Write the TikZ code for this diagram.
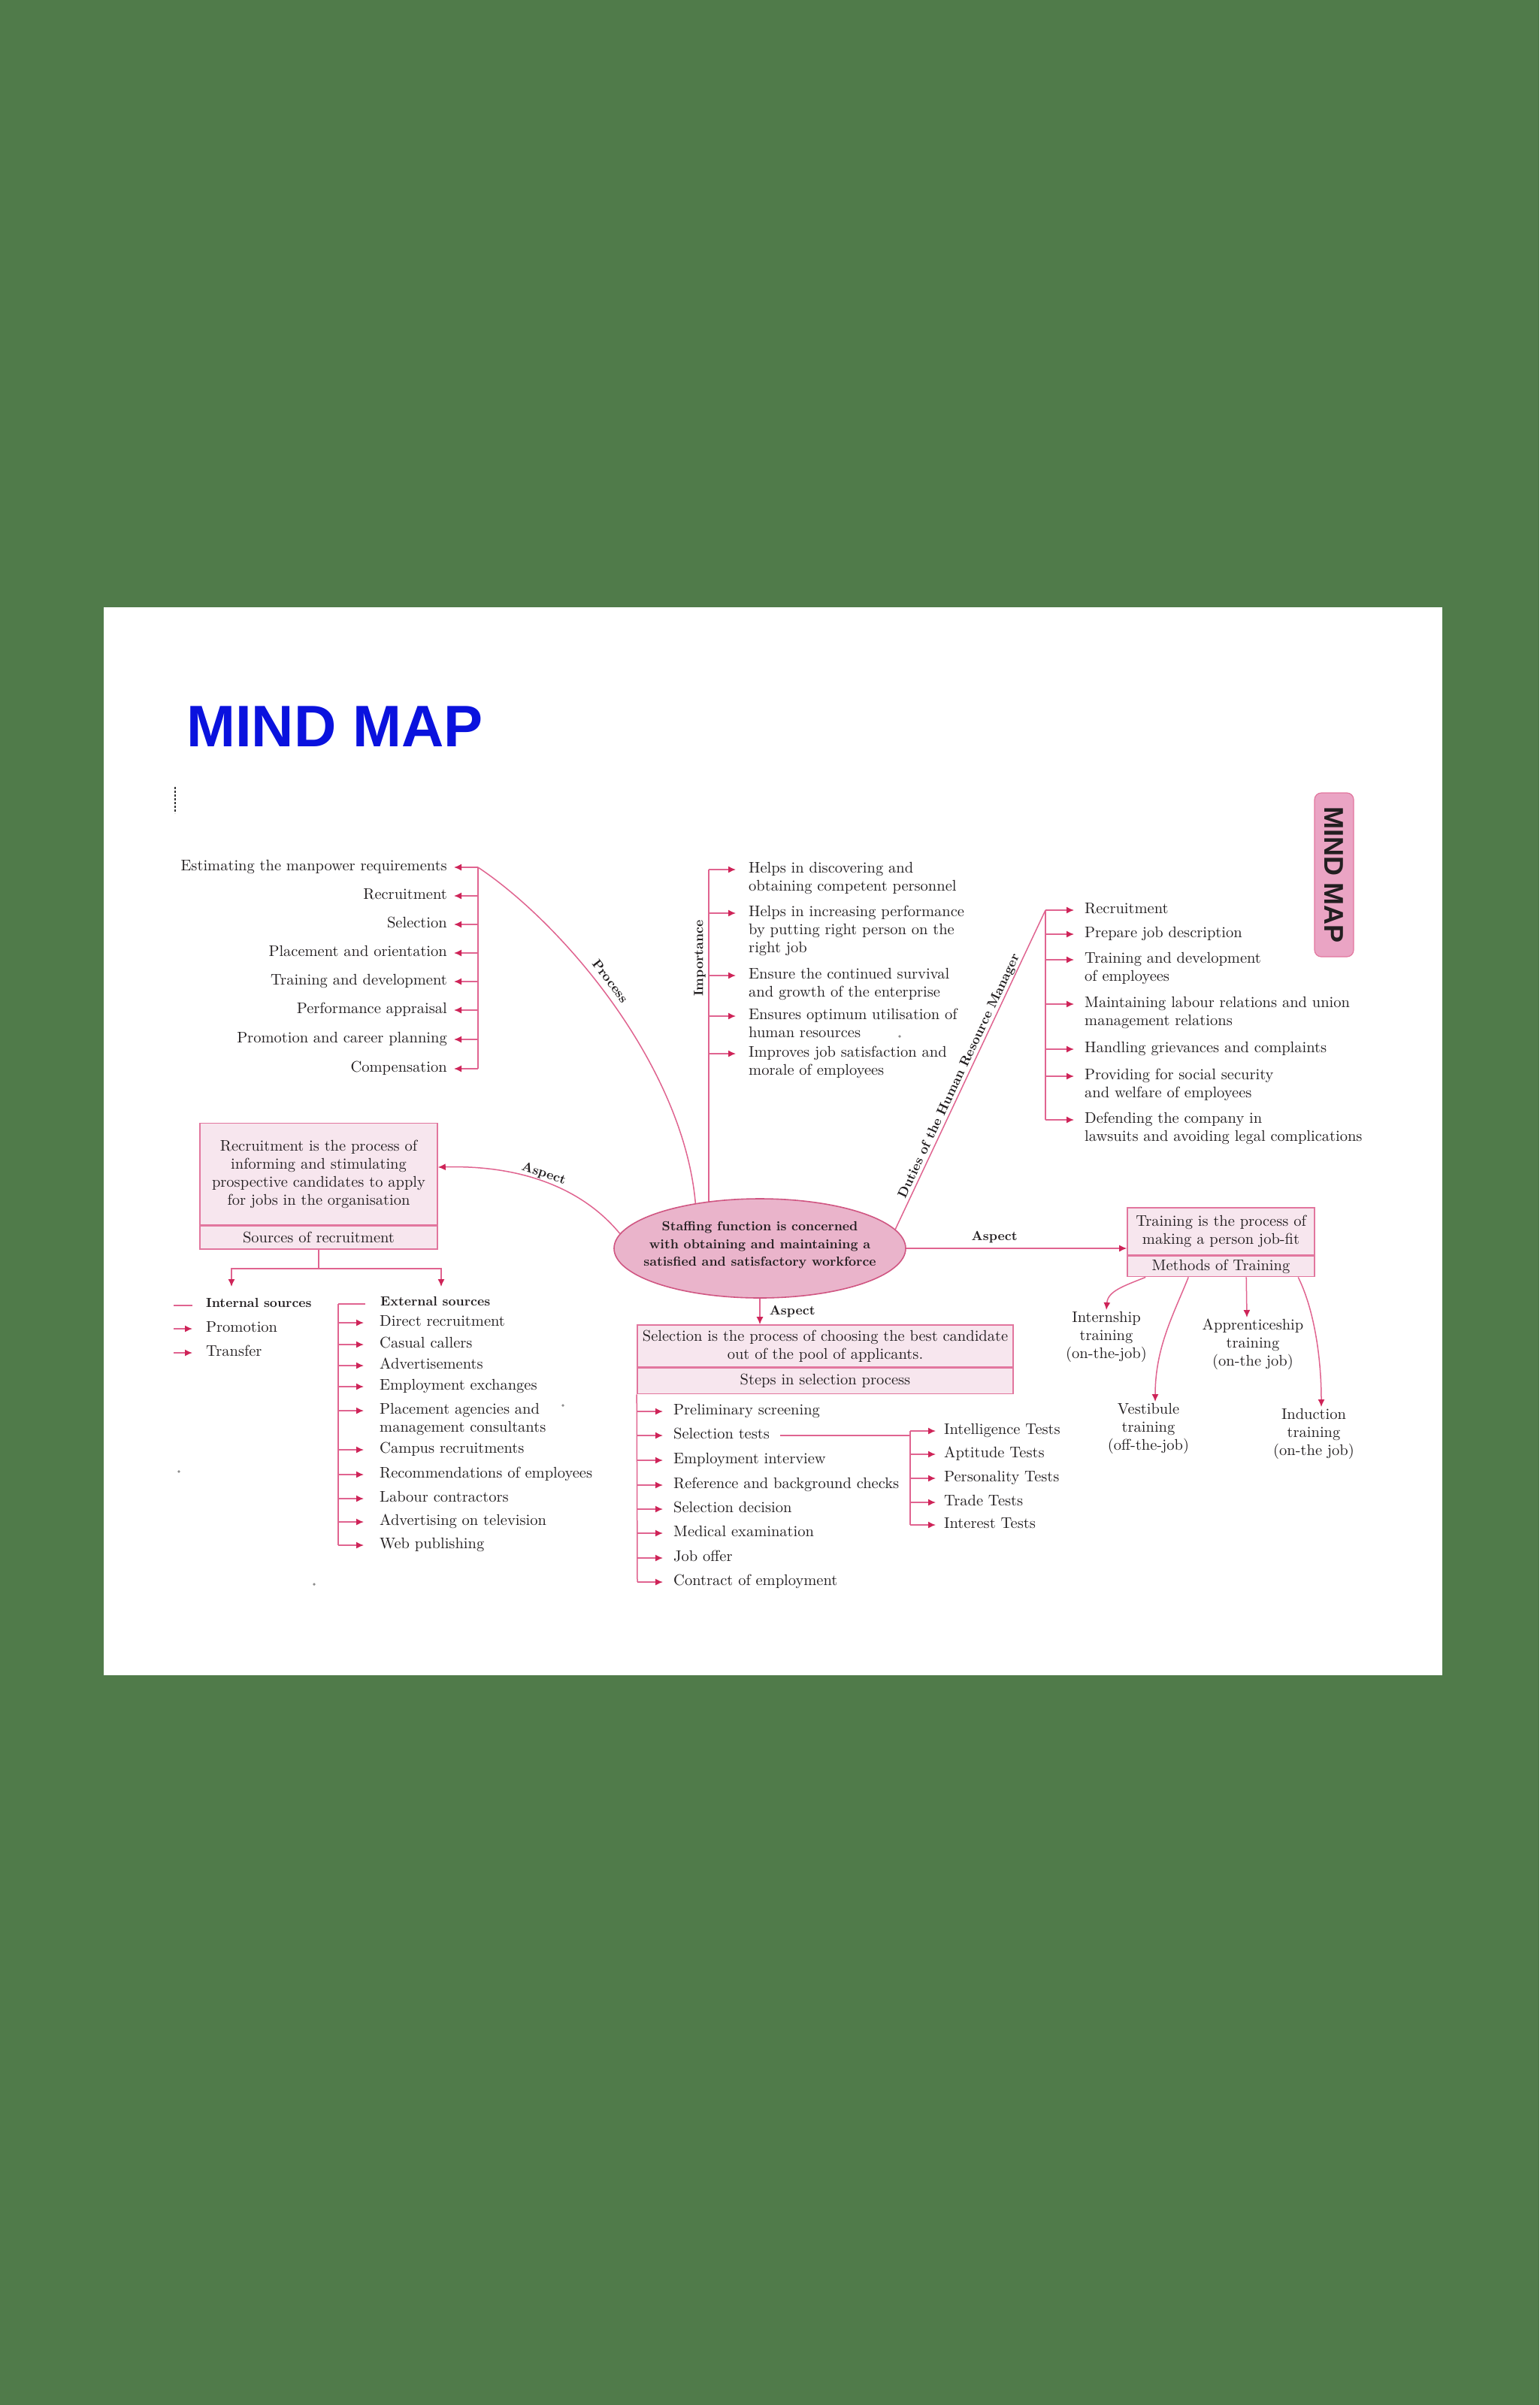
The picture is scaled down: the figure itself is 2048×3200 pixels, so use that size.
\documentclass[tikz,border=0pt]{standalone}
\usepackage{fontspec}
\setmainfont{lmroman10-regular.otf}[BoldFont=lmroman10-bold.otf, ItalicFont=lmroman10-italic.otf, BoldItalicFont=lmroman10-bolditalic.otf]
\newfontfamily\headfont{Liberation Sans}
\usetikzlibrary{arrows.meta,shapes.geometric,positioning,backgrounds}

\definecolor{leaf}{RGB}{80,123,74}
\definecolor{titleblue}{RGB}{10,18,222}
\definecolor{wirepink}{RGB}{224,100,144}
\definecolor{tipred}{RGB}{206,36,88}
\definecolor{boxfill}{RGB}{247,230,238}
\definecolor{boxline}{RGB}{226,118,158}
\definecolor{hubfill}{RGB}{234,180,203}
\definecolor{hubline}{RGB}{208,86,130}
\definecolor{tabfill}{RGB}{234,164,196}
\definecolor{ink}{RGB}{34,30,32}

\tikzset{
  wire/.style={draw=wirepink, line width=1.5pt},
  twig/.style={wire, -{Latex[length=10pt,width=9pt,color=tipred]}},
  txt/.style={font=\fontsize{20.5}{24}\selectfont, text=ink},
  ritem/.style={txt, anchor=north west, align=left, inner ysep=0pt, yshift=10pt},
  litem/.style={txt, anchor=north east, align=right, inner ysep=0pt, yshift=10pt},
  kid/.style={txt, anchor=north, align=center, inner sep=2pt, yshift=12pt},
  lbl/.style={font=\bfseries\fontsize{17.5}{21}\selectfont, text=ink, inner sep=2pt},
  card/.style={txt, draw=boxline, fill=boxfill, line width=1.6pt, align=center, inner sep=2pt},
  hub/.style={ellipse, draw=hubline, fill=hubfill, line width=1.6pt, minimum width=388pt, minimum height=132pt, inner sep=0pt},
  hubtext/.style={font=\bfseries\fontsize{17.5}{23.5}\selectfont, text=ink, align=center, inner sep=0pt},
  tabbox/.style={rounded corners=9pt, draw=boxline, fill=tabfill, line width=1.2pt, minimum width=218pt, minimum height=52pt, font=\headfont\bfseries\fontsize{36}{40}\selectfont, text=ink}
}

\begin{document}
\begin{tikzpicture}[x=1pt, y=-1pt]
  \useasboundingbox (0,0) rectangle (2048,3200);
  \begin{scope}[on background layer]
    \fill[leaf] (0,0) rectangle (2048,3200);
    \fill[white] (138,808) rectangle (1919,2229);
  \end{scope}

  % title and side tab
  \node[anchor=west, inner sep=0pt, text=titleblue, font=\headfont\bfseries\fontsize{78}{80}\selectfont] (title) at (248,967) {MIND MAP};
  \node[tabbox, rotate=-90] (tab) at (1775,1164) {MIND MAP};

  % centre
  \node[hub] (core) at (1011,1661) {};
  \node[hubtext] (coretext) at (1011,1657) {Staffing function is concerned\\with obtaining and maintaining a\\satisfied and satisfactory workforce};

  % process
  \foreach \y/\lab [count=\i] in {1154/Estimating the manpower requirements, 1192/Recruitment, 1230/Selection, 1268/Placement and orientation, 1306/Training and development, 1344/Performance appraisal, 1383/Promotion and career planning, 1422/Compensation} {
    \coordinate (pb\i) at (636,\y);
    \node[litem, inner xsep=9pt] (pr\i) at (604,\y) {\lab};
  }

  % importance
  \foreach \y/\lab [count=\i] in {1157/Helps in discovering and\\obtaining competent personnel, 1215/Helps in increasing performance\\by putting right person on the\\right job, 1298/Ensure the continued survival\\and growth of the enterprise, 1352/Ensures optimum utilisation of\\human resources, 1402/Improves job satisfaction and\\morale of employees} {
    \coordinate (ib\i) at (943,\y);
    \node[ritem, inner xsep=17pt] (im\i) at (979,\y) {\lab};
  }
  \node[lbl, rotate=90] (implbl) at (931,1275) {Importance};

  % duties
  \foreach \y/\lab [count=\i] in {1211/Recruitment, 1243/Prepare job description, 1277/Training and development\\of employees, 1336/Maintaining labour relations and union\\management relations, 1396/Handling grievances and complaints, 1432/Providing for social security\\and welfare of employees, 1490/Defending the company in\\lawsuits and avoiding legal complications} {
    \coordinate (db\i) at (1391,\y);
    \node[ritem, inner xsep=14pt] (du\i) at (1429,\y) {\lab};
  }

  % recruitment
  \node[card, minimum width=316pt, minimum height=135pt] (rectxt) at (424,1562) {Recruitment is the process of\\informing and stimulating\\prospective candidates to apply\\for jobs in the organisation};
  \node[card, minimum width=316pt, minimum height=31pt, anchor=north] (recsrc) at (rectxt.south) {Sources of recruitment};
  \coordinate (split) at (424,1688);
  \coordinate (inT) at (308,1712);
  \coordinate (exT) at (587,1712);

  \coordinate (in0) at (231,1737);
  \node[ritem, inner xsep=18pt, font=\bfseries\fontsize{17.5}{21}\selectfont] (inhead) at (256,1737) {Internal sources};
  \foreach \y/\lab [count=\i] in {1768/Promotion, 1800/Transfer} {
    \coordinate (in\i) at (231,\y);
    \node[ritem, inner xsep=18pt] (is\i) at (256,\y) {\lab};
  }

  \coordinate (ex0) at (450,1735);
  \node[ritem, inner xsep=20pt, font=\bfseries\fontsize{17.5}{21}\selectfont] (exhead) at (486,1735) {External sources};
  \foreach \y/\lab [count=\i] in {1760/Direct recruitment, 1789/Casual callers, 1817/Advertisements, 1845/Employment exchanges, 1877/Placement agencies and\\management consultants, 1929/Campus recruitments, 1962/Recommendations of employees, 1994/Labour contractors, 2025/Advertising on television, 2056/Web publishing} {
    \coordinate (eb\i) at (450,\y);
    \node[ritem, inner xsep=21pt] (es\i) at (484,\y) {\lab};
  }

  % selection
  \node[card, minimum width=500pt, minimum height=56pt] (seltxt) at (1098,1791) {Selection is the process of choosing the best candidate\\out of the pool of applicants.};
  \node[card, minimum width=500pt, minimum height=34pt, anchor=north] (selsrc) at (seltxt.south) {Steps in selection process};
  \foreach \y/\lab [count=\i] in {1878/Preliminary screening, 1910/Selection tests, 1943/Employment interview, 1976/Reference and background checks, 2008/Selection decision, 2040/Medical examination, 2073/Job offer, 2105/Contract of employment} {
    \coordinate (sb\i) at (848,\y);
    \node[ritem, inner xsep=14pt] (st\i) at (882,\y) {\lab};
  }
  \foreach \y/\lab [count=\i] in {1904/Intelligence Tests, 1935/Aptitude Tests, 1967/Personality Tests, 1999/Trade Tests, 2029/Interest Tests} {
    \coordinate (tb\i) at (1211,\y);
    \node[ritem, inner xsep=11pt] (te\i) at (1245,\y) {\lab};
  }

  % training
  \node[card, minimum width=249pt, minimum height=63pt] (trtxt) at (1624.5,1638.5) {Training is the process of\\making a person job-fit};
  \node[card, minimum width=249pt, minimum height=27pt, anchor=north] (trsrc) at (trtxt.south) {Methods of Training};
  \node[kid] (intern) at (1472,1755) {Internship\\training\\(on-the-job)};
  \node[kid] (vesti) at (1528,1877) {Vestibule\\training\\(off-the-job)};
  \node[kid] (appren) at (1667,1765) {Apprenticeship\\training\\(on-the job)};
  \node[kid] (induct) at (1748,1884) {Induction\\training\\(on-the job)};

  % specks of the scan
  \draw[densely dashed, line width=2.5pt, black!80] (233,1047) -- (233,1082);
  \foreach \p in {(749,1870),(238,1958),(418,2108),(1197,1379)}
    \fill[black!45] \p circle (1.8);

  \begin{scope}[on background layer]
    % process
    \draw[wire] (pb1) -- (pb8);
    \foreach \i in {1,...,8} \draw[twig] (pb\i) -- (pb\i -| pr\i.east);
    \draw[wire] (pb1) .. controls +(114,76) and +(-16,-182) .. node[lbl, sloped, above=6pt, pos=0.45] {Process} (core.145);
    % importance
    \draw[wire] (ib1) -- (ib1 |- core.center);
    \foreach \i in {1,...,5} \draw[twig] (ib\i) -- (ib\i -| im\i.west);
    % duties
    \draw[wire] (db1) -- (db7);
    \foreach \i in {1,...,7} \draw[twig] (db\i) -- (db\i -| du\i.west);
    \draw[wire] (core.8) -- node[lbl, sloped, above=0pt, inner sep=1pt, pos=0.47] {Duties of the Human Resource Manager} (db1);
    % recruitment
    \draw[twig] (core.174) .. controls +(-51,-62) and +(108,-3) .. node[lbl, sloped, above=0pt, inner sep=1pt, pos=0.52] {Aspect} ([yshift=9pt]rectxt.east);
    \draw[wire] (recsrc.south) -- (split);
    \draw[twig] (split) -| (inT);
    \draw[twig] (split) -| (exT);
    \draw[wire] (in0) -- (in0 -| inhead.west);
    \foreach \i in {1,2} \draw[twig] (in\i) -- (in\i -| is\i.west);
    \draw[wire] (ex0) -- (ex0 -| exhead.west);
    \draw[wire] (ex0) -- (eb10);
    \foreach \i in {1,...,10} \draw[twig] (eb\i) -- (eb\i -| es\i.west);
    % selection
    \draw[twig] (core.south) -- node[lbl, right, inner xsep=12pt] {Aspect} (core.south |- seltxt.north);
    \draw[wire] (selsrc.south west) -- (sb8);
    \foreach \i in {1,...,8} \draw[twig] (sb\i) -- (sb\i -| st\i.west);
    \draw[wire] (st2.east |- sb2) -- (sb2 -| tb1);
    \draw[wire] (tb1) -- (tb5);
    \foreach \i in {1,...,5} \draw[twig] (tb\i) -- (tb\i -| te\i.west);
    % training
    \draw[twig] (core.east) -- node[lbl, above, pos=0.4, yshift=4pt] {Aspect} (core.east -| trtxt.west);
    \draw[twig] ([xshift=25pt]trsrc.south west) .. controls +(-30,12) and +(2,-25) .. (intern.north);
    \draw[twig] ([xshift=82pt]trsrc.south west) .. controls +(-20,50) and +(0,-72) .. ([xshift=9pt]vesti.north);
    \draw[twig] ([xshift=159pt]trsrc.south west) -- ([xshift=-8pt]appren.north);
    \draw[twig] ([xshift=228pt]trsrc.south west) .. controls +(20,40) and +(0,-70) .. ([xshift=10pt]induct.north);
  \end{scope}
\end{tikzpicture}
\end{document}
